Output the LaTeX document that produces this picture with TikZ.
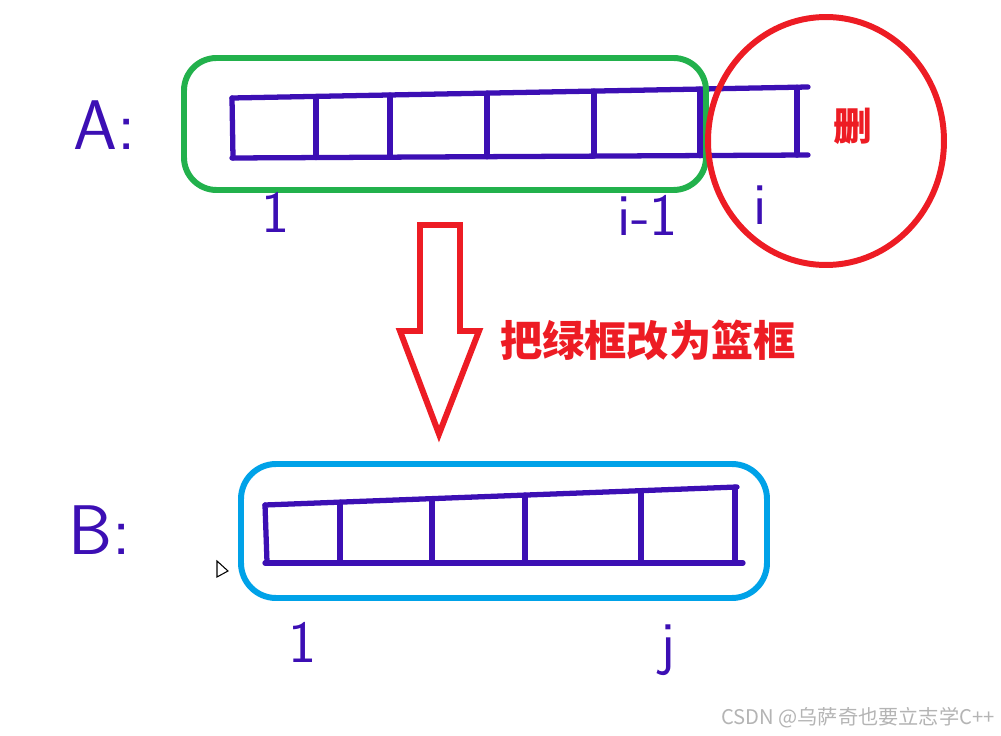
\documentclass[tikz,border=0pt]{standalone}
\usepackage{fontspec}
\newfontfamily\cjk{Noto Sans CJK SC}
\definecolor{ink}{HTML}{3C0FB4}
\definecolor{boxgreen}{HTML}{22B14C}
\definecolor{boxblue}{HTML}{00A2E8}
\definecolor{markred}{HTML}{ED1C24}
\definecolor{wmgray}{HTML}{B4B4B4}
\newcommand{\hw}{\fontsize{40}{40}\selectfont\sffamily}
\newcommand{\hws}{\fontsize{34}{34}\selectfont\sffamily}

\begin{document}
\begin{tikzpicture}[x=0.02cm,y=-0.02cm]
   \useasboundingbox (0,0) rectangle (1001,736);
   \tikzset{cell/.style={ink,line width=3pt,line cap=round}}
   \draw (105,125) node[ink] (labA) {\hw A:};
   \draw (100,530) node[ink] (labB) {\hw B:};
   \draw[cell] (232,98) -- (808,87);
   \draw[cell] (232,158) -- (808,155);
   \draw[cell] (232,98) -- (233,158);
   \foreach \x in {316,390,487,594,700,797}
      \draw[cell] (\x,{98-0.019*(\x-232)}) -- (\x,{158-0.005*(\x-232)});
   \draw[cell] (265,505) -- (737,487);
   \draw[cell] (265,563) -- (743,563);
   \draw[cell] (265,505) -- (267,562);
   \foreach \x in {340,432,525,641,735}
      \draw[cell] (\x,{505-0.038*(\x-265)}) -- (\x,563);
   \draw[boxgreen,line width=3.4pt,rounded corners=0.65cm] (184,58) rectangle (706,190);
   \draw[boxblue,line width=3.4pt,rounded corners=0.7cm] (241,464) rectangle (767,598);
   \draw[markred,line width=3.4pt] (826,141) ellipse [x radius=2.36cm, y radius=2.48cm];
   \draw (853,126) node[markred] (del) {\cjk\bfseries\fontsize{22}{22}\selectfont 删};
   \draw (276,212) node[ink] (a1) {\hws 1};
   \draw (648,215) node[ink] (aim1) {\hws i-1};
   \draw (760,205) node[ink] (ai) {\hws i};
   \draw (303,642) node[ink] (b1) {\hws 1};
   \draw (668,650) node[ink] (bj) {\hws j};
   \draw[markred,line width=3.4pt,line join=miter] (420,225) -- (460,225) -- (460,331) -- (479,331)
      -- (439,434) -- (400,331) -- (420,331) -- cycle;
   \draw (648,340) node[markred] (note) {\cjk\bfseries\fontsize{24}{24}\selectfont 把绿框改为篮框};
   \draw[black,fill=white,line width=0.6pt] (217,561) -- (217,577) -- (228,571) -- cycle;
   \draw (995,718) node[wmgray,anchor=east,inner sep=0pt] (wm) {\cjk\fontsize{11.5}{11.5}\selectfont CSDN @乌萨奇也要立志学C++};
\end{tikzpicture}
\end{document}
